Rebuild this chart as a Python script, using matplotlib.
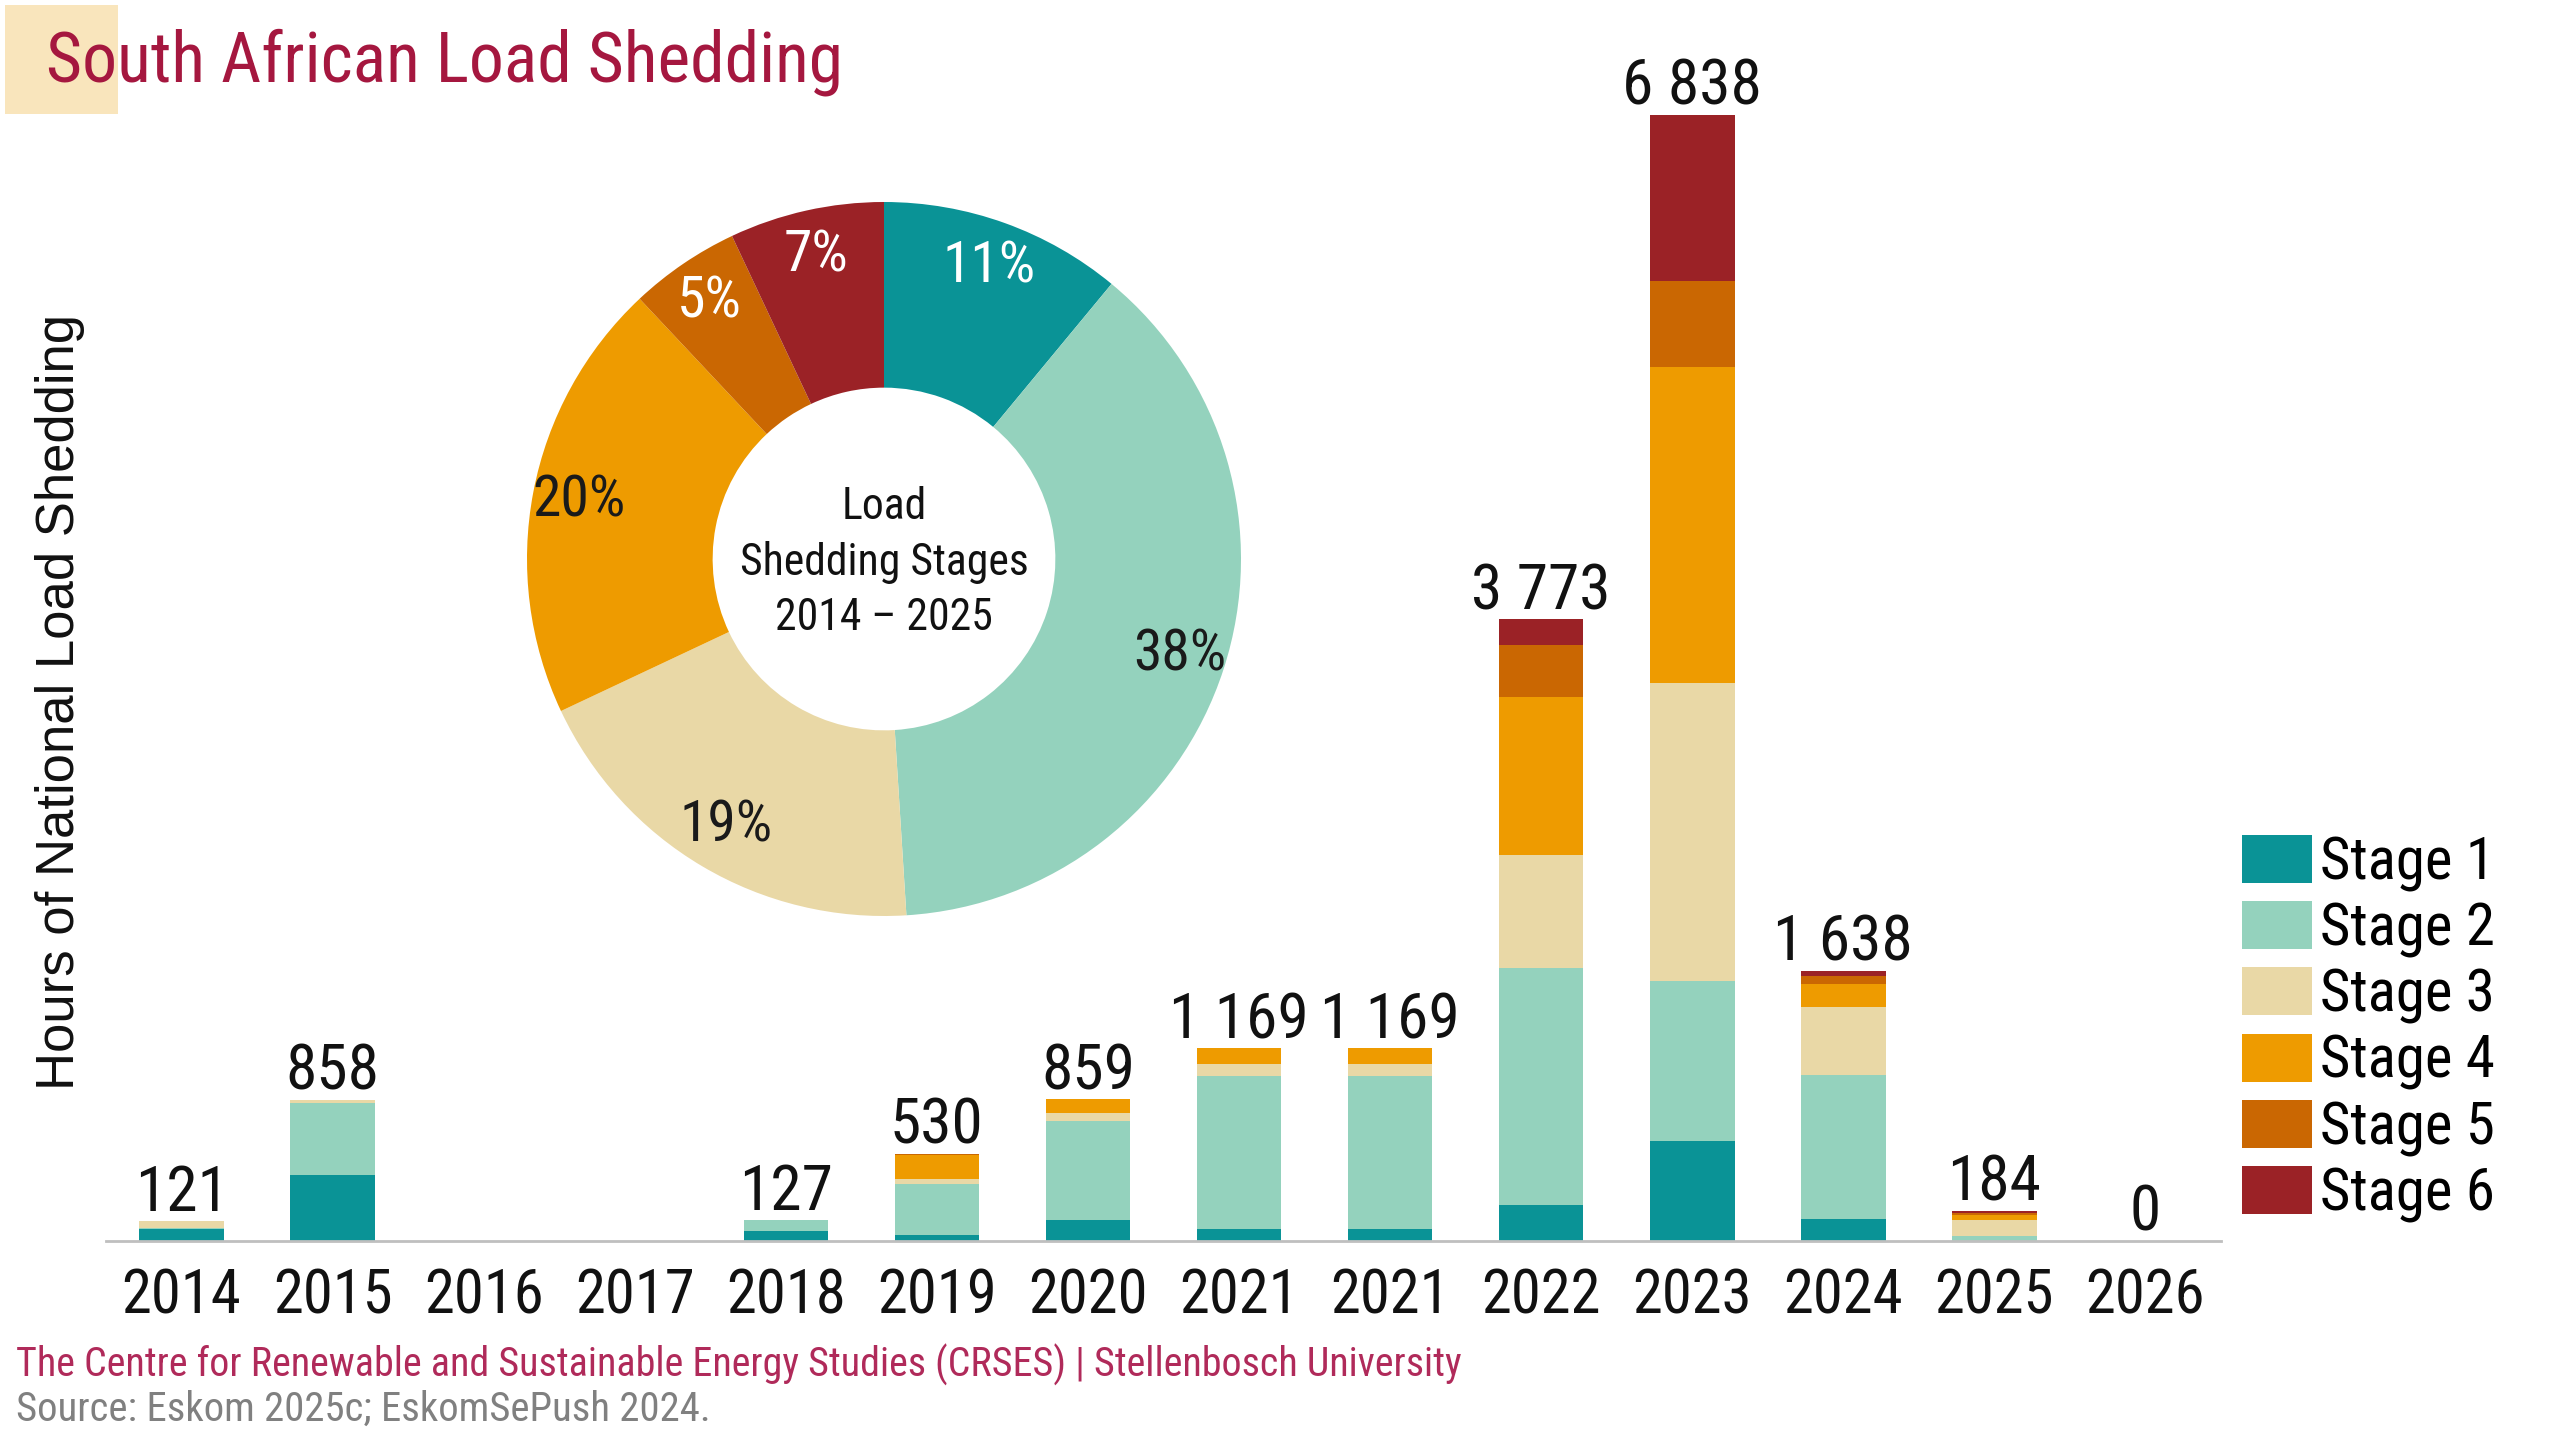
import matplotlib
matplotlib.use("Agg")
import matplotlib.pyplot as plt
from matplotlib.patches import Rectangle
from matplotlib.textpath import TextPath
from matplotlib.font_manager import FontProperties
import numpy as np

# ---- data ----
years = ["2014", "2015", "2016", "2017", "2018", "2019", "2020",
         "2021", "2021", "2022", "2023", "2024", "2025", "2026"]
stage1 = [71, 401, 0, 0, 59, 35, 126, 71, 71, 219, 609, 132, 1, 0]
stage2 = [5, 437, 0, 0, 68, 311, 602, 933, 933, 1437, 970, 876, 32, 0]
stage3 = [45, 20, 0, 0, 0, 31, 47, 69, 69, 685, 1807, 414, 93, 0]
stage4 = [0, 0, 0, 0, 0, 145, 84, 96, 96, 961, 1921, 140, 32, 0]
stage5 = [0, 0, 0, 0, 0, 8, 0, 0, 0, 314, 523, 48, 11, 0]
stage6 = [0, 0, 0, 0, 0, 0, 0, 0, 0, 157, 1008, 28, 15, 0]
totals = [121, 858, None, None, 127, 530, 859, 1169, 1169, 3773, 6838, 1638, 184, 0]

stage_names = ["Stage 1", "Stage 2", "Stage 3", "Stage 4", "Stage 5", "Stage 6"]
stage_colors = ["#0A9396", "#94D2BD", "#E9D8A6", "#EE9B00", "#CA6702", "#9B2226"]
pie_shares = [11, 38, 19, 20, 5, 7]
pie_text_colors = ["white", "#1a1a1a", "#1a1a1a", "#1a1a1a", "white", "white"]

title = "South African Load Shedding"
ylabel = "Hours of National Load Shedding"
donut_center = "Load\nShedding Stages\n2014 \u2013 2025"
footer1 = "The Centre for Renewable and Sustainable Energy Studies (CRSES) | Stellenbosch University"
footer2 = "Source: Eskom 2025c; EskomSePush 2024."

NARROW = ["Roboto Condensed", "Archivo Narrow", "IBM Plex Sans Condensed",
          "Liberation Sans Narrow", "DejaVu Sans"]
ARIAL = ["Liberation Sans", "Arial", "DejaVu Sans"]
W, H = 2560, 1440
DPI = 100


def fit(s, target_px, family=NARROW):
    """font size (pt) so that the ink width of s is target_px pixels"""
    tp = TextPath((0, 0), s, size=100, prop=FontProperties(family=family))
    w = tp.get_extents().width
    return target_px * 72.0 / (w * DPI / 100.0)


fs_title = fit(title, 790)
fs_tick = fit("2014", 115)
fs_val = fit("1 638", 131)
fs_leg = fit("Stage 1", 162)
fs_pie = fit("38%", 88)
fs_center = fit("Shedding Stages", 285)
fs_foot1 = fit(footer1, 1445)
fs_foot2 = fit(footer2, 689)
fs_ylab = fit(ylabel, 768, ARIAL)

fig = plt.figure(figsize=(W / DPI, H / DPI), dpi=DPI)
fig.patch.set_facecolor("white")

# ---- bar axes ----
ax = fig.add_axes([106 / W, 1 - 1241 / H, 2115 / W, (1241 - 50) / H])
x = np.arange(len(years))
series = [stage1, stage2, stage3, stage4, stage5, stage6]
bottom = np.zeros(len(years))
handles = []
for vals, name, col in zip(series, stage_names, stage_colors):
    b = ax.bar(x, vals, width=0.56, bottom=bottom, color=col, label=name,
               linewidth=0, zorder=2)
    handles.append(b)
    bottom += np.array(vals, dtype=float)

for xi, tot in zip(x, totals):
    if tot is None:
        continue
    ax.annotate(f"{tot:,}".replace(",", " "), (xi, tot), xytext=(0, -2),
                textcoords="offset points", ha="center", va="bottom",
                fontsize=fs_val, family=NARROW, color="#111111")

ax.set_xlim(-0.5, len(years) - 0.5)
ax.set_ylim(0, 7230)
ax.set_xticks(x)
ax.set_xticklabels(years, fontsize=fs_tick, family=NARROW, color="#111111")
ax.tick_params(axis="x", length=0, pad=19)
ax.set_yticks([])
for s in ["top", "right", "left"]:
    ax.spines[s].set_visible(False)
ax.spines["bottom"].set_color("#BFBFBF")
ax.spines["bottom"].set_linewidth(2)
ax.patch.set_alpha(0)

fig.text(60 / W, 1 - 702 / H, ylabel, rotation=90, ha="center", va="center",
         fontsize=fs_ylab, family=ARIAL, color="#111111")

# ---- legend ----
em = fs_leg * DPI / 72.0
fig.legend(handles=handles, labels=stage_names, loc="upper left",
           bbox_to_anchor=(2242 / W, 1 - 834 / H), frameon=False,
           prop={"family": NARROW, "size": fs_leg},
           handlelength=70 / em, handleheight=52 / em, handletextpad=8 / em,
           labelspacing=0.15, borderpad=0, borderaxespad=0)

# ---- donut ----
r = 357
cx, cy = 884, 559
pax = fig.add_axes([(cx - r) / W, 1 - (cy + r) / H, 2 * r / W, 2 * r / H])
wedges, texts, autotexts = pax.pie(
    pie_shares, colors=stage_colors, startangle=90, counterclock=False,
    radius=1.0, wedgeprops=dict(width=0.52, linewidth=0),
    autopct=lambda p: f"{p:.0f}%", pctdistance=0.87)
for t, c in zip(autotexts, pie_text_colors):
    t.set_color(c)
    t.set_fontsize(fs_pie)
    t.set_family(NARROW)
pax.set_xlim(-1, 1)
pax.set_ylim(-1, 1)
pax.set_aspect("equal")
pax.axis("off")
pax.text(0, -0.01, donut_center, ha="center", va="center", fontsize=fs_center,
         family=NARROW, color="#111111", linespacing=1.38)

# ---- title ----
fig.patches.append(Rectangle((5 / W, 1 - 114 / H), 113 / W, 109 / H,
                             transform=fig.transFigure, facecolor="#F9E5BC",
                             edgecolor="none", zorder=0))
fig.text(46 / W, 1 - 82 / H, title, ha="left", va="baseline", fontsize=fs_title,
         family=NARROW, color="#A5173F", zorder=2)

# ---- footer ----
fig.text(16 / W, 1 - 1377 / H, footer1, ha="left", va="baseline", fontsize=fs_foot1,
         family=NARROW, color="#B02A5A")
fig.text(16 / W, 1 - 1421 / H, footer2, ha="left", va="baseline", fontsize=fs_foot2,
         family=NARROW, color="#808080")

fig.savefig("out.png", dpi=DPI, facecolor="white")
